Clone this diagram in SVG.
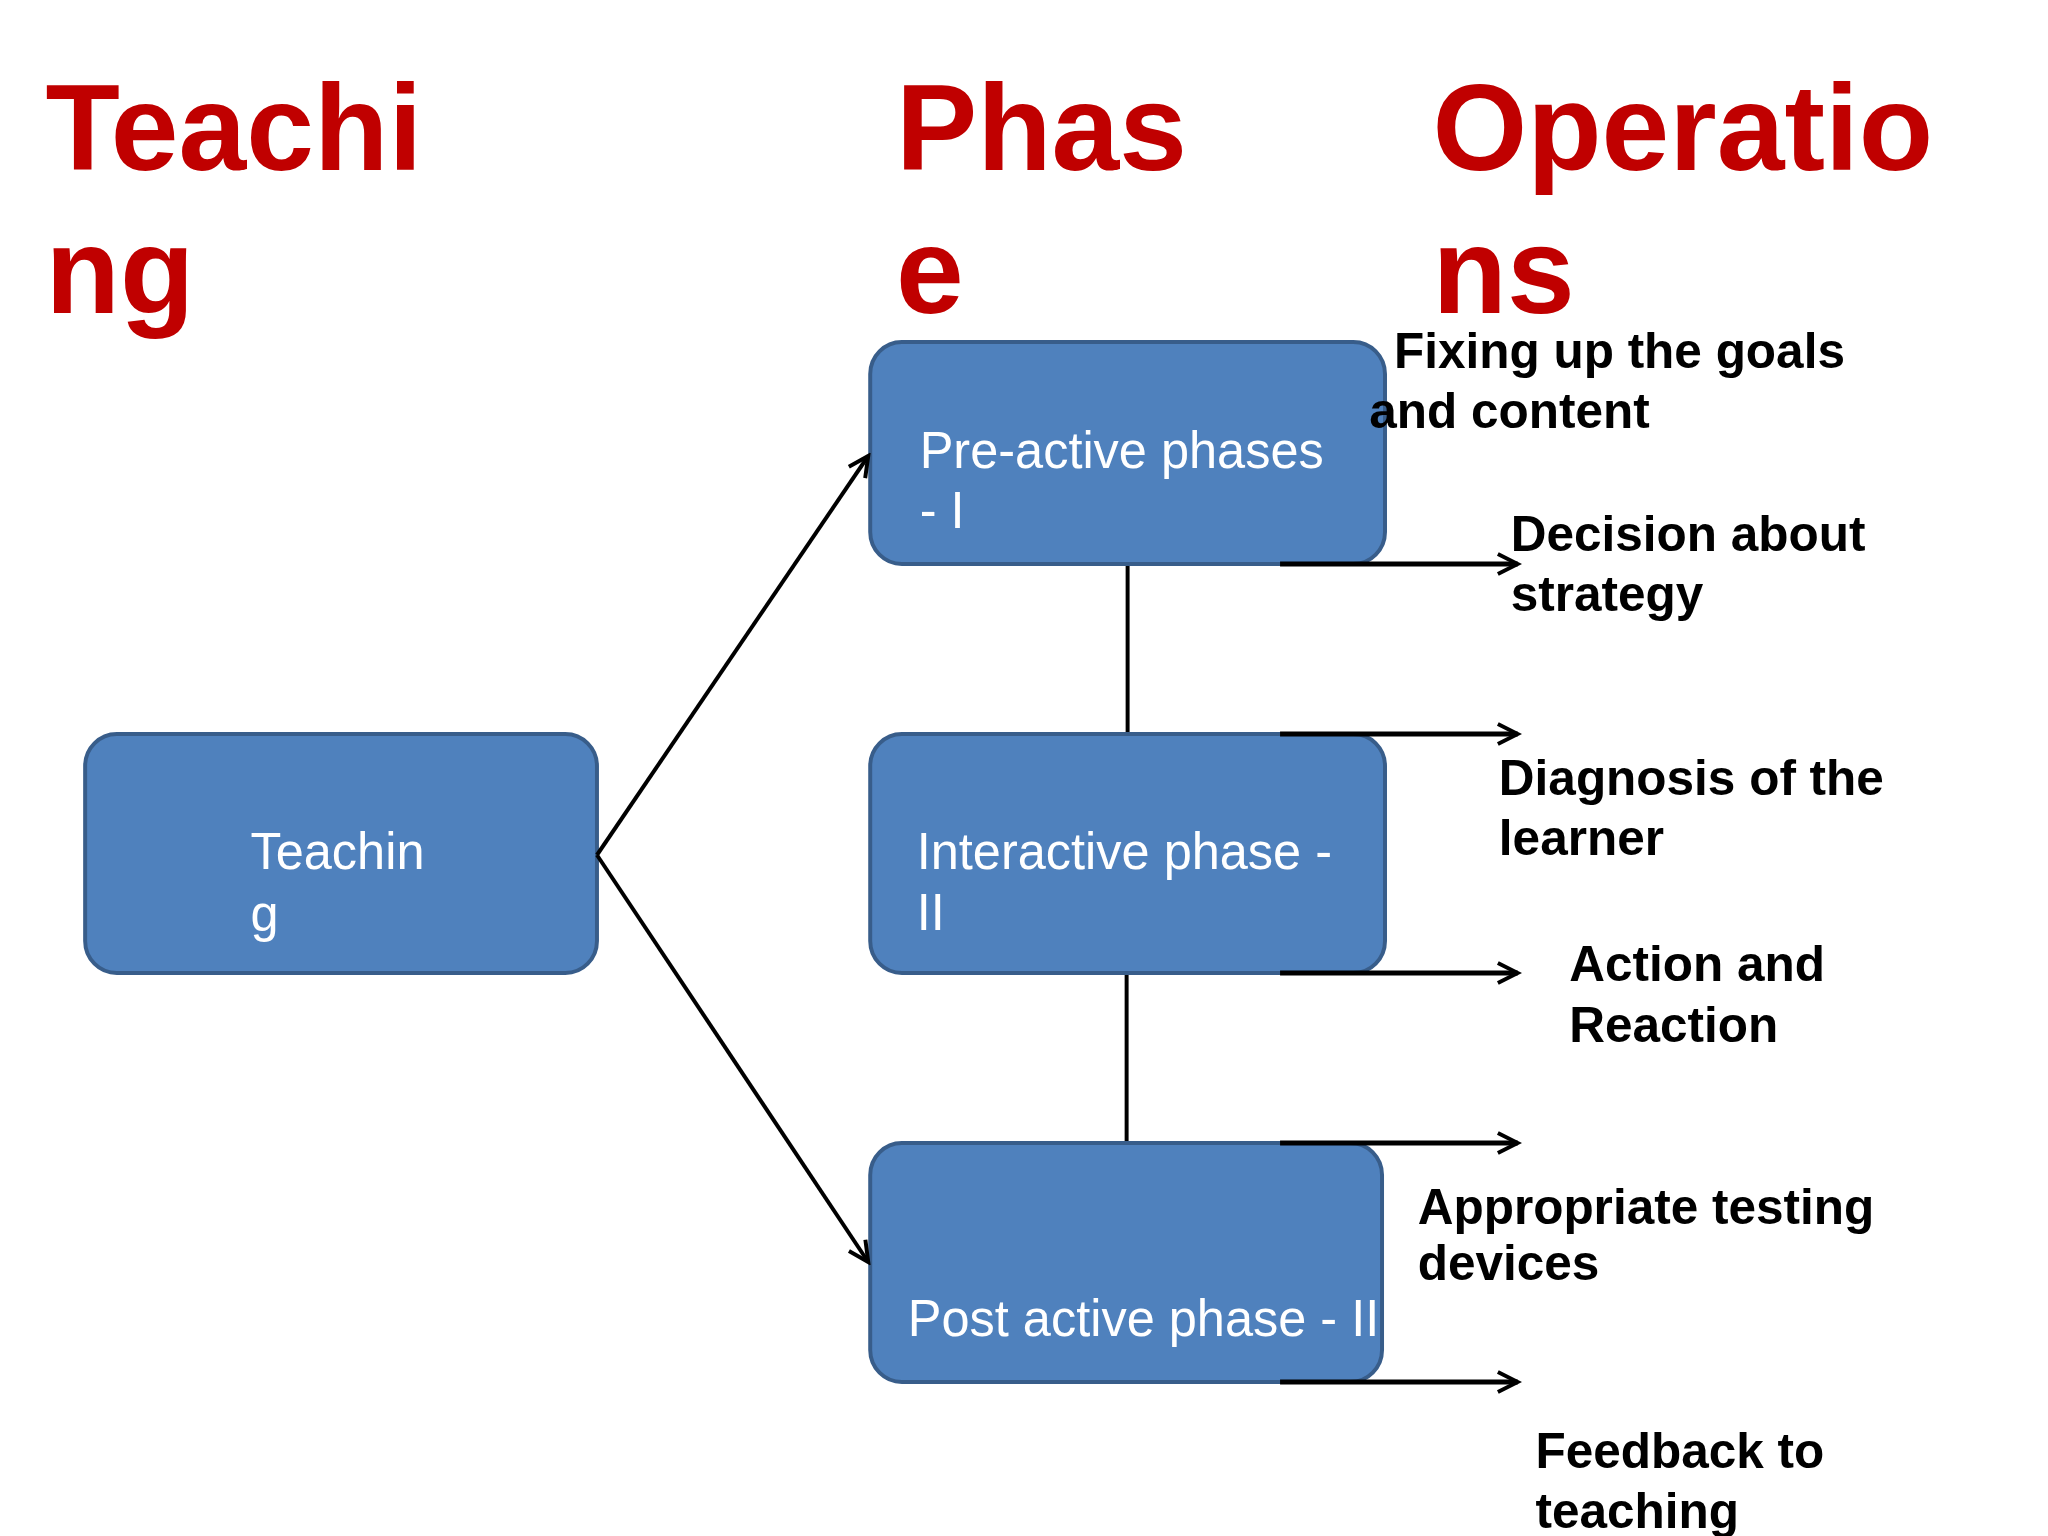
<svg xmlns="http://www.w3.org/2000/svg" width="2048" height="1536" viewBox="0 0 2048 1536">
<style>
.t{font-family:"Liberation Sans",Arial,sans-serif;font-weight:bold;font-size:123px;fill:#c00000}
.box{fill:#4f81bd;stroke:#385d8a;stroke-width:4}
.bt{font-family:"Liberation Sans",Arial,sans-serif;font-size:51px;fill:#fff}
.lb{font-family:"Liberation Sans",Arial,sans-serif;font-weight:bold;font-size:50px;fill:#000}
.c{stroke:#000;stroke-width:4;fill:none}
.h{stroke:#000;stroke-width:5;fill:none}
</style>
<defs>
<marker id="b" markerWidth="28" markerHeight="28" refX="24" refY="14" orient="auto" markerUnits="userSpaceOnUse" viewBox="0 0 28 28"><path d="M4,4 L24,14 L4,24" fill="none" stroke="#000" stroke-width="4"/></marker></defs>
<g transform="scale(0.99 1)">
<g id="headers">
<text class="t" x="46" y="170">Teachi</text><text class="t" x="46" y="313">ng</text>
<text class="t" x="905" y="170">Phas</text><text class="t" x="905" y="313">e</text>
<text class="t" x="1447" y="170">Operatio</text><text class="t" x="1447" y="313">ns</text>
</g>
<g id="teaching"><rect class="box" x="86" y="734" width="517" height="239" rx="32"/><text class="bt" x="253" y="869">Teachin</text><text class="bt" x="253" y="931">g</text></g>
<g id="preactive"><rect class="box" x="879" y="342" width="520" height="222" rx="32"/><text class="bt" x="929" y="468">Pre-active phases</text><text class="bt" x="929" y="528">- I</text></g>
<g id="interactive"><rect class="box" x="879" y="734" width="520" height="239" rx="32"/><text class="bt" x="926" y="869">Interactive phase -</text><text class="bt" x="926" y="930">II</text></g>
<g id="postactive"><rect class="box" x="879" y="1143" width="517" height="239" rx="32"/><text class="bt" x="917" y="1336">Post active phase - II</text></g>
<g id="connectors">
<line class="c" x1="603" y1="855" x2="877" y2="456" marker-end="url(#b)"/>
<line class="c" x1="603" y1="855" x2="877" y2="1262" marker-end="url(#b)"/>
<line class="c" x1="1139" y1="566" x2="1139" y2="732"/>
<line class="c" x1="1138" y1="975" x2="1138" y2="1141"/>
<line class="h" x1="1293" y1="564" x2="1533" y2="564" marker-end="url(#b)"/>
<line class="h" x1="1293" y1="734" x2="1533" y2="734" marker-end="url(#b)"/>
<line class="h" x1="1293" y1="973" x2="1533" y2="973" marker-end="url(#b)"/>
<line class="h" x1="1293" y1="1143" x2="1533" y2="1143" marker-end="url(#b)"/>
<line class="h" x1="1293" y1="1382" x2="1533" y2="1382" marker-end="url(#b)"/>
</g>
<g id="labels">
<text class="lb" x="1408" y="368">Fixing up the goals</text><text class="lb" x="1383" y="428">and content</text>
<text class="lb" x="1526" y="551">Decision about</text><text class="lb" x="1526" y="611">strategy</text>
<text class="lb" x="1514" y="795">Diagnosis of the</text><text class="lb" x="1514" y="855">learner</text>
<text class="lb" x="1585" y="981">Action and</text><text class="lb" x="1585" y="1042">Reaction</text>
<text class="lb" x="1432" y="1224">Appropriate testing</text><text class="lb" x="1432" y="1280">devices</text>
<text class="lb" x="1551" y="1468">Feedback to</text><text class="lb" x="1551" y="1528">teaching</text>
</g>
</g>
</svg>
